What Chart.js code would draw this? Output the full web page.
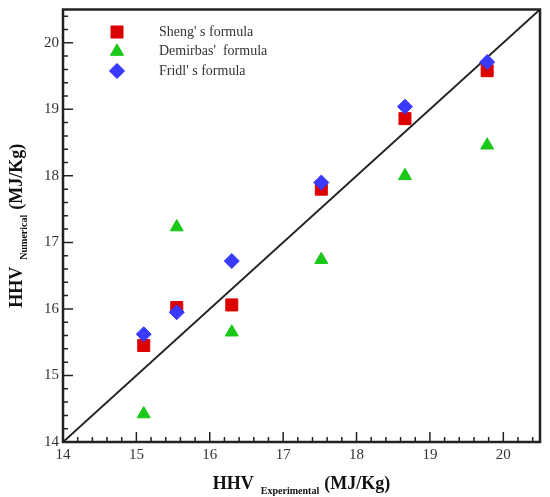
<!DOCTYPE html>
<html>
<head>
<meta charset="utf-8">
<script src="https://cdn.jsdelivr.net/npm/chart.js@4"></script>
<style>
  html, body { margin: 0; padding: 0; background: #fff; }
  #wrap { width: 550px; height: 497px; }
</style>
</head>
<body>
<div id="wrap"><canvas id="c"></canvas></div>
<script>
// experimental HHV (shared x values)
const hhvExp = [15.1, 15.55, 16.3, 17.52, 18.66, 19.78];
// numerical HHV per formula
const sheng = [15.45, 16.02, 16.06, 17.8, 18.86, 19.58];
const demirbas = [14.42, 17.23, 15.65, 16.74, 18.0, 18.46];
const fridl = [15.62, 15.95, 16.72, 17.9, 19.04, 19.71];
const seriesNames = ["Sheng' s formula", "Demirbas'  formula", "Fridl' s formula"];
const diagX = [14, 20.5];
const axisMin = 14, axisMax = 20.5;

const colors = ['#dc0000', '#19c819', '#3a3aff'];
const shapes = ['rect', 'triangle', 'rectRot'];
const sizes = [8.5, 7.5, 7.5];

const pts = ys => hhvExp.map((x, i) => ({ x: x, y: ys[i] }));

const serif = '"Liberation Serif", "DejaVu Serif", serif';

// frame, inward ticks, legend and axis titles
const decor = {
  id: 'decor',
  afterDraw(chart) {
    const ctx = chart.ctx;
    const a = chart.chartArea;
    const xs = chart.scales.x, ys = chart.scales.y;
    ctx.save();
    ctx.strokeStyle = '#222';
    ctx.lineWidth = 1.5;
    for (let i = 0; i <= 32; i++) {
      const v = axisMin + i / 5;
      const len = (i % 5 === 0) ? 10 : 5;
      const px = xs.getPixelForValue(v);
      const py = ys.getPixelForValue(v);
      ctx.beginPath();
      ctx.moveTo(px, a.bottom); ctx.lineTo(px, a.bottom - len);
      ctx.moveTo(a.left, py); ctx.lineTo(a.left + len, py);
      ctx.stroke();
    }
    ctx.lineWidth = 2.5;
    ctx.strokeRect(a.left, a.top, a.right - a.left, a.bottom - a.top);

    // legend
    seriesNames.forEach((name, i) => {
      const y = 32 + i * 19.5;
      ctx.fillStyle = colors[i];
      ctx.strokeStyle = colors[i];
      ctx.lineWidth = 1;
      Chart.helpers.drawPoint(ctx, { pointStyle: shapes[i], radius: sizes[i], rotation: 0, borderWidth: 1 }, 117, y);
      ctx.fill();
      ctx.fillStyle = '#333';
      ctx.font = '14px ' + serif;
      ctx.textBaseline = 'middle';
      ctx.textAlign = 'left';
      ctx.fillText(name, 159, y);
    });

    // axis titles with subscript
    const drawTitle = (main, sub, unit, cx, cy, rot) => {
      ctx.save();
      ctx.translate(cx, cy);
      ctx.rotate(rot);
      ctx.fillStyle = '#111';
      ctx.textBaseline = 'alphabetic';
      ctx.textAlign = 'left';
      const big = 'bold 18px ' + serif, small = 'bold 10px ' + serif;
      ctx.font = big; const w1 = ctx.measureText(main).width;
      const w3 = ctx.measureText(unit).width;
      ctx.font = small; const w2 = ctx.measureText(sub).width;
      const gap1 = 7, gap2 = 5;
      let x = -(w1 + gap1 + w2 + gap2 + w3) / 2;
      ctx.font = big; ctx.fillText(main, x, 0); x += w1 + gap1;
      ctx.font = small; ctx.fillText(sub, x, 5); x += w2 + gap2;
      ctx.font = big; ctx.fillText(unit, x, 0);
      ctx.restore();
    };
    drawTitle('HHV', 'Experimental', '(MJ/Kg)', (a.left + a.right) / 2, 489, 0);
    drawTitle('HHV', 'Numerical', '(MJ/Kg)', 22, (a.top + a.bottom) / 2, -Math.PI / 2);
    ctx.restore();
  }
};

const tickFont = { family: serif, size: 15 };

new Chart(document.getElementById('c'), {
  type: 'scatter',
  data: {
    datasets: [
      { label: seriesNames[0], data: pts(sheng), order: 3 },
      { label: seriesNames[1], data: pts(demirbas), order: 2 },
      { label: seriesNames[2], data: pts(fridl), order: 1 },
      {
        label: 'y = x',
        data: diagX.map(v => ({ x: v, y: v })),
        showLine: true, pointRadius: 0, borderColor: '#222', borderWidth: 2,
        order: 4
      }
    ].map((d, i) => i < 3 ? Object.assign(d, {
      pointStyle: shapes[i], pointRadius: sizes[i], pointHoverRadius: sizes[i],
      backgroundColor: colors[i], borderColor: colors[i], borderWidth: 1
    }) : d)
  },
  options: {
    responsive: true,
    maintainAspectRatio: false,
    animation: false,
    layout: { padding: { top: 8, right: 10, left: 0, bottom: 0 } },
    plugins: { legend: { display: false }, tooltip: { enabled: false } },
    scales: {
      x: {
        type: 'linear', min: axisMin, max: axisMax,
        grid: { display: false, drawTicks: false },
        border: { display: false },
        ticks: { stepSize: 1, includeBounds: false, color: '#333', font: tickFont, padding: 4, maxRotation: 0 },
        afterFit: s => { s.height = 55; s.paddingLeft = 0; s.paddingRight = 0; }
      },
      y: {
        type: 'linear', min: axisMin, max: axisMax,
        grid: { display: false, drawTicks: false },
        border: { display: false },
        ticks: { stepSize: 1, includeBounds: false, color: '#333', font: tickFont, padding: 4 },
        afterFit: s => { s.width = 63; s.paddingTop = 0; s.paddingBottom = 0; }
      }
    }
  },
  plugins: [decor]
});
</script>
</body>
</html>
